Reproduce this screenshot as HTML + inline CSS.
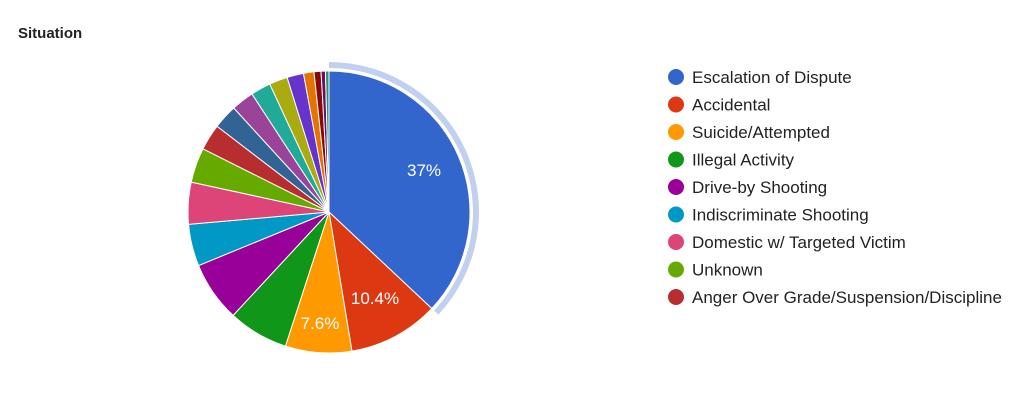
<!DOCTYPE html>
<html><head><meta charset="utf-8"><style>
body{margin:0;background:#fff;width:1024px;height:402px;overflow:hidden;font-family:"Liberation Sans",Arial,sans-serif}
</style></head><body>
<svg id="s" width="1024" height="402" xmlns="http://www.w3.org/2000/svg">
<text x="18" y="38" font-size="15" font-weight="bold" fill="#222" font-family="Liberation Sans, Arial, sans-serif">Situation</text>
<g id="pie"></g>
<g font-family="Liberation Sans, Arial, sans-serif" font-size="17" fill="#222" textLength="0">
<circle cx="676" cy="77" r="8" fill="#3366cc"/><text x="692" y="83">Escalation of Dispute</text>
<circle cx="676" cy="104.5" r="8" fill="#dc3912"/><text x="692" y="110.5">Accidental</text>
<circle cx="676" cy="132" r="8" fill="#ff9900"/><text x="692" y="138">Suicide/Attempted</text>
<circle cx="676" cy="159.5" r="8" fill="#109618"/><text x="692" y="165.5">Illegal Activity</text>
<circle cx="676" cy="187" r="8" fill="#990099"/><text x="692" y="193">Drive-by Shooting</text>
<circle cx="676" cy="214.5" r="8" fill="#0099c6"/><text x="692" y="220.5">Indiscriminate Shooting</text>
<circle cx="676" cy="242" r="8" fill="#dd4477"/><text x="692" y="248">Domestic w/ Targeted Victim</text>
<circle cx="676" cy="269.5" r="8" fill="#66aa00"/><text x="692" y="275.5">Unknown</text>
<circle cx="676" cy="297" r="8" fill="#b82e2e"/><text x="692" y="303">Anger Over Grade/Suspension/Discipline</text>
</g>
</svg>
<script>
var cx=329,cy=212,r=141;
var d=[[37,"#3366cc"],[10.4,"#dc3912"],[7.6,"#ff9900"],[6.9,"#109618"],[6.9,"#990099"],[4.8,"#0099c6"],[4.8,"#dd4477"],[4.0,"#66aa00"],[3.0,"#b82e2e"],[2.8,"#316395"],[2.6,"#994499"],[2.3,"#22aa99"],[2.1,"#aaaa11"],[1.9,"#6633cc"],[1.2,"#e67300"],[0.8,"#8b0707"],[0.5,"#651067"],[0.4,"#329262"]];
var tot=0;d.forEach(function(x){tot+=x[0]});
var g=document.getElementById('pie'),a=0,h="";
function pt(ang,rr){return [cx+rr*Math.sin(ang),cy-rr*Math.cos(ang)];}
d.forEach(function(x,i){var a2=a+x[0]/tot*2*Math.PI;var p1=pt(a,r),p2=pt(a2,r);var lg=(a2-a)>Math.PI?1:0;
h+='<path d="M'+cx+','+cy+' L'+p1[0]+','+p1[1]+' A'+r+','+r+' 0 '+lg+' 1 '+p2[0]+','+p2[1]+' Z" fill="'+x[1]+'" stroke="#fff" stroke-width="1"/>';
if(i==0){var q1=pt(a,r+3),q2=pt(a2,r+3),q3=pt(a2,r+9),q4=pt(a,r+9);
h+='<path d="M'+q1[0]+','+q1[1]+' A'+(r+3)+','+(r+3)+' 0 0 1 '+q2[0]+','+q2[1]+' L'+q3[0]+','+q3[1]+' A'+(r+9)+','+(r+9)+' 0 0 0 '+q4[0]+','+q4[1]+' Z" fill="#c1d0ef"/>';}
a=a2;});
var f=' font-size="17" fill="#fff" text-anchor="middle" font-family="Liberation Sans, Arial, sans-serif"';
h+='<text x="424" y="176"'+f+'>37%</text>';
h+='<text x="375" y="304"'+f+'>10.4%</text>';
h+='<text x="320" y="329"'+f+'>7.6%</text>';
g.innerHTML=h;
</script>
</body></html>
